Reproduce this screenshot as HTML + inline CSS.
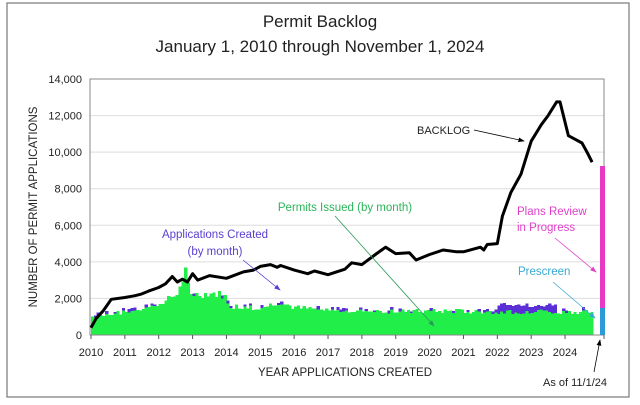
<!DOCTYPE html>
<html><head><meta charset="utf-8"><style>
html,body{margin:0;padding:0;background:#fff;width:640px;height:405px;overflow:hidden}
svg{display:block;font-family:"Liberation Sans",sans-serif}
</style></head><body>
<svg id="s" width="640" height="405" xmlns="http://www.w3.org/2000/svg">
<defs>
<marker id="ak" markerWidth="8" markerHeight="8" refX="7" refY="4" orient="auto"><path d="M0,1 L8,4 L0,7 z" fill="#000"/></marker>
<marker id="ag" markerWidth="8" markerHeight="8" refX="7" refY="4" orient="auto"><path d="M0,1 L8,4 L0,7 z" fill="#2a9a5a"/></marker>
<marker id="ap" markerWidth="8" markerHeight="8" refX="7" refY="4" orient="auto"><path d="M0,1 L8,4 L0,7 z" fill="#5a3fd0"/></marker>
<marker id="am" markerWidth="8" markerHeight="8" refX="7" refY="4" orient="auto"><path d="M0,1 L8,4 L0,7 z" fill="#e040c8"/></marker>
<marker id="at" markerWidth="8" markerHeight="8" refX="7" refY="4" orient="auto"><path d="M0,1 L8,4 L0,7 z" fill="#3aa8d0"/></marker>
</defs>
<rect x="7" y="3" width="622" height="394" fill="#fff" stroke="#777" stroke-width="1.2"/>
<text x="320" y="27" font-size="17" text-anchor="middle" fill="#222">Permit Backlog</text>
<text x="320" y="52" font-size="17" text-anchor="middle" fill="#222">January 1, 2010 through November 1, 2024</text>
<g id="grid"></g>
<g id="bars" shape-rendering="crispEdges"></g>
<rect x="90" y="79" width="514" height="256" fill="none" stroke="#888" stroke-width="1"/>
<polyline id="bl" fill="none" stroke="#000" stroke-width="3" stroke-linejoin="round"/>
<rect x="600" y="166" width="5" height="142" fill="#e838c8"/>
<rect x="600" y="308" width="5" height="27" fill="#2a9ad8"/>
<g id="ticks" font-size="11" fill="#222"></g>
<text transform="translate(37,207) rotate(-90)" font-size="11.5" text-anchor="middle" fill="#222">NUMBER OF PERMIT APPLICATIONS</text>
<text x="345" y="376" font-size="11.5" text-anchor="middle" fill="#222">YEAR APPLICATIONS CREATED</text>
<text x="417" y="134" font-size="11" fill="#222">BACKLOG</text>
<line x1="474" y1="130" x2="524" y2="141" stroke="#000" stroke-width="0.8" marker-end="url(#ak)"/>
<text x="345" y="211" font-size="11.5" text-anchor="middle" fill="#2bb55a">Permits Issued (by month)</text>
<line x1="335" y1="216" x2="434" y2="326" stroke="#2a9a5a" stroke-width="0.8" marker-end="url(#ag)"/>
<text x="215" y="238" font-size="11.5" text-anchor="middle" fill="#5a3fd0">Applications Created</text>
<text x="215" y="255" font-size="11.5" text-anchor="middle" fill="#5a3fd0">(by month)</text>
<line x1="243" y1="260" x2="280" y2="290" stroke="#5a3fd0" stroke-width="0.8" marker-end="url(#ap)"/>
<text x="517" y="215" font-size="11.5" fill="#e040c8">Plans Review</text>
<text x="517" y="231" font-size="11.5" fill="#e040c8">in Progress</text>
<line x1="555" y1="238" x2="596" y2="272" stroke="#e040c8" stroke-width="0.8" marker-end="url(#am)"/>
<text x="518" y="275" font-size="11.5" fill="#3aa8d0">Prescreen</text>
<line x1="553" y1="282" x2="595" y2="318" stroke="#3aa8d0" stroke-width="0.8" marker-end="url(#at)"/>
<text x="543" y="386" font-size="11" fill="#222">As of 11/1/24</text>
<line x1="594" y1="372" x2="600" y2="340" stroke="#000" stroke-width="0.8" marker-end="url(#ak)"/>
</svg>
<script>
var NS="http://www.w3.org/2000/svg";
function el(t,a,p){var e=document.createElementNS(NS,t);for(var k in a)e.setAttribute(k,a[k]);p.appendChild(e);return e;}
function X(yr){return 91+(yr-2010)*33.86;}
function Y(v){return 335-v*256/14000;}
var g=document.getElementById("grid"),tk=document.getElementById("ticks");
for(var v=2000;v<=12000;v+=2000){el("line",{x1:90,x2:604,y1:Y(v),y2:Y(v),stroke:"#ddd","stroke-width":1},g);}
for(var v=0;v<=14000;v+=2000){var t=el("text",{x:82,y:Y(v)+4,"text-anchor":"end"},tk);t.textContent=v.toLocaleString("en-US");}
for(var y=2010;y<=2024;y++){var t=el("text",{x:X(y),y:356,"text-anchor":"middle"},tk);t.textContent=y;el("line",{x1:X(y),x2:X(y),y1:335,y2:339,stroke:"#555"},tk);}
el("line",{x1:604,x2:604,y1:335,y2:339,stroke:"#555"},tk);
function interp(pts,x){for(var i=0;i<pts.length-1;i++){if(x>=pts[i][0]&&x<=pts[i+1][0]){var f=(x-pts[i][0])/(pts[i+1][0]-pts[i][0]);return pts[i][1]+f*(pts[i+1][1]-pts[i][1]);}}return pts[pts.length-1][1];}
var env=[[2010,1000],[2010.5,1150],[2011,1250],[2011.5,1500],[2012,1650],[2012.4,2200],[2012.8,2900],[2013,2200],[2013.5,2300],[2013.9,2200],[2014,1600],[2015,1500],[2015.5,1800],[2016,1500],[2017,1350],[2018,1300],[2019,1300],[2020,1300],[2021,1300],[2022,1250],[2023,1300],[2024,1250],[2025,1300]];
var seed=7;function rnd(){seed=(seed*9301+49297)%233280;return seed/233280;}
var b=document.getElementById("bars");
for(var m=0;m<178;m++){var yr=2010+m/12;var e=interp(env,yr);var gv=e*(0.9+rnd()*0.2);
if(m==33)gv=3700;
var pv=gv+(rnd()<0.25?80+rnd()*120:0);
if(yr>=2022&&yr<2023.7)pv=1500+rnd()*250;
var x=X(yr),w=3.2;
el("rect",{x:x,y:Y(pv),width:w,height:335-Y(pv),fill:"#5a2fd6"},b);
el("rect",{x:x,y:Y(gv),width:w,height:335-Y(gv),fill:"#22ee4a"},b);}
var bl=[[2010,400],[2010.15,900],[2010.35,1300],[2010.6,1950],[2011,2050],[2011.3,2150],[2011.5,2250],[2011.7,2400],[2012,2600],[2012.2,2800],[2012.4,3200],[2012.55,2900],[2012.7,3050],[2012.85,2900],[2013,3350],[2013.15,3000],[2013.5,3250],[2014,3100],[2014.5,3450],[2014.8,3550],[2015,3750],[2015.3,3850],[2015.5,3700],[2015.6,3800],[2016,3550],[2016.4,3350],[2016.6,3500],[2017,3300],[2017.5,3600],[2017.7,3950],[2018,3850],[2018.4,4400],[2018.7,4800],[2019,4450],[2019.4,4500],[2019.6,4100],[2020,4400],[2020.4,4650],[2020.8,4550],[2021,4550],[2021.5,4800],[2021.6,4650],[2021.7,4950],[2022,5000],[2022.15,6500],[2022.4,7800],[2022.7,8800],[2023,10600],[2023.3,11500],[2023.5,12000],[2023.75,12750],[2023.85,12750],[2024.1,10900],[2024.3,10700],[2024.5,10500],[2024.65,10000],[2024.8,9450]];
document.getElementById("bl").setAttribute("points",bl.map(function(p){return X(p[0]).toFixed(1)+","+Y(p[1]).toFixed(1);}).join(" "));
</script>
</body></html>
